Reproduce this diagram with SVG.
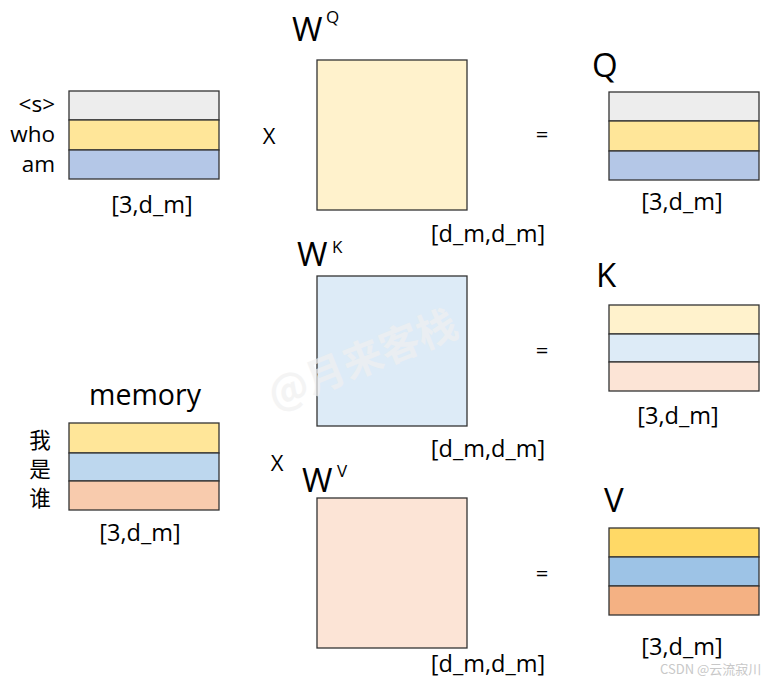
<svg xmlns="http://www.w3.org/2000/svg" width="778" height="684" viewBox="0 0 778 684">
<style>
text{font-family:"Open Sans","Liberation Sans",sans-serif;fill:#000}
.cjk{font-family:"Noto Sans CJK SC",sans-serif}
.lbl{font-size:22.5px}
.dim{font-size:23.5px;text-anchor:middle}
.big{font-size:33px}
.sup{font-size:17px}
.op{font-size:22px;text-anchor:middle}
.m{stroke:#333;stroke-width:1.3}
</style>
<rect width="778" height="684" fill="#fff"/>
<g id="input">
<rect class="m" x="69" y="91" width="150" height="29" fill="#EDEDED"/>
<rect class="m" x="69" y="120" width="150" height="30" fill="#FFE699"/>
<rect class="m" x="69" y="150" width="150" height="29" fill="#B4C7E7"/>
<text class="lbl" x="55" y="112" text-anchor="end">&lt;s&gt;</text>
<text class="lbl" x="55" y="142" text-anchor="end">who</text>
<text class="lbl" x="55" y="172" text-anchor="end">am</text>
<text class="dim" x="152" y="213">[3,d_m]</text>
</g>
<g id="memory">
<text x="145" y="405" font-size="28.5" text-anchor="middle">memory</text>
<rect class="m" x="69" y="423" width="150" height="30" fill="#FFE699"/>
<rect class="m" x="69" y="453" width="150" height="28" fill="#BDD7EE"/>
<rect class="m" x="69" y="481" width="150" height="29" fill="#F8CBAD"/>
<text class="cjk" x="40" y="448" font-size="21.5" text-anchor="middle">我</text>
<text class="cjk" x="40" y="477" font-size="21.5" text-anchor="middle">是</text>
<text class="cjk" x="40" y="506" font-size="21.5" text-anchor="middle">谁</text>
<text class="dim" x="140" y="541">[3,d_m]</text>
</g>
<g id="wq">
<text class="big" x="292" y="41">W</text>
<text class="sup" x="326" y="23">Q</text>
<rect class="m" x="317" y="60" width="150" height="150" fill="#FFF2CC"/>
<text class="dim" x="488" y="242">[d_m,d_m]</text>
</g>
<g id="wk">
<text class="big" x="297" y="266">W</text>
<text class="sup" x="332" y="253">K</text>
<rect class="m" x="317" y="276" width="150" height="150" fill="#DDEBF7"/>
<text class="dim" x="488" y="457">[d_m,d_m]</text>
</g>
<g id="wv">
<text class="big" x="302" y="492">W</text>
<text class="sup" x="337" y="477">V</text>
<rect class="m" x="317" y="498" width="150" height="150" fill="#FCE4D6"/>
<text class="dim" x="488" y="672">[d_m,d_m]</text>
</g>
<g id="q">
<text class="big" x="592" y="77">Q</text>
<rect class="m" x="609" y="92" width="150" height="29" fill="#EDEDED"/>
<rect class="m" x="609" y="121" width="150" height="30" fill="#FFE699"/>
<rect class="m" x="609" y="151" width="150" height="29" fill="#B4C7E7"/>
<text class="dim" x="682" y="210">[3,d_m]</text>
</g>
<g id="k">
<text class="big" x="596" y="287">K</text>
<rect class="m" x="609" y="305" width="150" height="29" fill="#FFF2CC"/>
<rect class="m" x="609" y="334" width="150" height="28" fill="#DDEBF7"/>
<rect class="m" x="609" y="362" width="150" height="29" fill="#FCE4D6"/>
<text class="dim" x="678" y="424">[3,d_m]</text>
</g>
<g id="v">
<text class="big" x="604" y="512">V</text>
<rect class="m" x="609" y="528" width="150" height="29" fill="#FFD966"/>
<rect class="m" x="609" y="557" width="150" height="29" fill="#9DC3E6"/>
<rect class="m" x="609" y="586" width="150" height="29" fill="#F4B183"/>
<text class="dim" x="682" y="655">[3,d_m]</text>
</g>
<g id="operators">
<text class="op" x="269" y="144">X</text>
<text class="op" x="277" y="471">X</text>
<text class="op" x="542" y="142">=</text>
<text class="op" x="542" y="358">=</text>
<text class="op" x="542" y="581">=</text>
</g>
<g id="connectors"></g>
<g id="watermarks">
<text class="cjk" x="275" y="410" font-size="40" font-weight="bold" transform="rotate(-22 275 410)" style="fill:#f0f0f0;opacity:0.7">@月来客栈</text>
<text class="cjk" x="660" y="674" font-size="13" style="fill:#c8c8c8">CSDN @云流寂川</text>
</g>
</svg>
